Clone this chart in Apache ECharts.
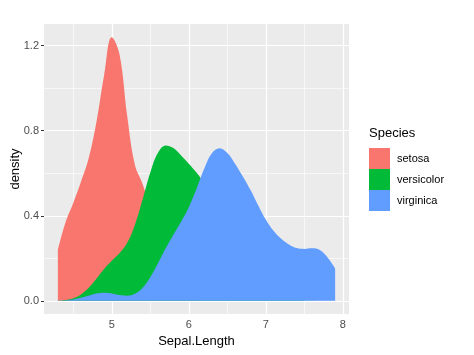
<!DOCTYPE html>
<html>
<head>
<meta charset="utf-8">
<script src="https://cdn.jsdelivr.net/npm/echarts@6/dist/echarts.min.js"></script>
<style>
html,body{margin:0;padding:0;background:#fff;}
#chart{width:474px;height:355px;}
</style>
</head>
<body>
<div id="chart"></div>
<script>
// Sepal.Length grid (density evaluated points)
const xs = [4.3,4.4,4.5,4.6,4.7,4.8,4.9,5.0,5.1,5.2,5.3,5.4,5.5,5.6,5.7,5.8,5.9,6.0,6.1,6.2,6.3,6.4,6.5,6.6,6.7,6.8,6.9,7.0,7.1,7.2,7.3,7.4,7.5,7.6,7.7,7.8,7.9];
const setosa = [0.24,0.37,0.46,0.56,0.67,0.84,1.06,1.24,1.16,0.87,0.64,0.55,0.43,0.29,0.23,0.17,0.08,0.024,0.004,0,0,0,0,0,0,0,0,0,0,0,0,0,0,0,0,0,0];
const versicolor = [0.001,0.004,0.012,0.030,0.061,0.104,0.150,0.189,0.224,0.273,0.357,0.476,0.603,0.696,0.731,0.719,0.684,0.645,0.603,0.553,0.498,0.446,0.404,0.369,0.331,0.280,0.219,0.154,0.097,0.053,0.025,0.010,0.003,0.001,0,0,0];
const virginica = [0.001,0.002,0.006,0.014,0.024,0.034,0.038,0.035,0.027,0.024,0.033,0.061,0.111,0.177,0.247,0.311,0.372,0.440,0.527,0.621,0.694,0.718,0.695,0.645,0.586,0.522,0.450,0.382,0.329,0.292,0.265,0.248,0.244,0.247,0.239,0.205,0.152];
const species = ['setosa','versicolor','virginica'];
const colors = ['#F8766D','#00BA38','#619CFF'];
const xTicks = [5,6,7,8];
const xMinor = [4.5,5.5,6.5,7.5];
const yTicks = [0,0.4,0.8,1.2];
const yMinor = [0.2,0.6,1.0];

const FONT = 'Liberation Sans, Arial, Helvetica, sans-serif';
const seriesVals = [setosa, versicolor, virginica];

const gridLines = [];
xTicks.forEach(v => gridLines.push({xAxis: v, lineStyle: {width: 1.2}}));
xMinor.forEach(v => gridLines.push({xAxis: v, lineStyle: {width: 0.6}}));
yTicks.forEach(v => gridLines.push({yAxis: v, lineStyle: {width: 1.2}}));
yMinor.forEach(v => gridLines.push({yAxis: v, lineStyle: {width: 0.6}}));

const series = [{
  type: 'line', name: '_grid', data: [], silent: true,
  markLine: {
    z: 1, silent: true, animation: false, symbol: ['none','none'],
    label: {show: false},
    lineStyle: {color: '#FFFFFF', type: 'solid'},
    emphasis: {disabled: true},
    data: gridLines
  }
}];
species.forEach((s, k) => {
  series.push({
    type: 'line', name: s,
    data: xs.map((x, i) => [x, seriesVals[k][i]]),
    smooth: 0.4, showSymbol: false, symbol: 'none',
    color: colors[k],
    itemStyle: {color: colors[k]},
    lineStyle: {width: 0, color: colors[k]},
    areaStyle: {color: colors[k], opacity: 1},
    silent: true, z: 2
  });
});

const chart = echarts.init(document.getElementById('chart'), null, {renderer: 'canvas'});
chart.setOption({
  animation: false,
  backgroundColor: '#FFFFFF',
  textStyle: {fontFamily: FONT},
  grid: {left: 44, right: 125, top: 24, bottom: 41, show: true, backgroundColor: '#EBEBEB', borderWidth: 0,
    containLabel: false, outerBoundsMode: 'none'},
  xAxis: {
    type: 'value', min: 4.12, max: 8.08,
    axisLine: {show: false},
    axisTick: {show: true, length: 3, customValues: xTicks, lineStyle: {color: '#333333', width: 1}},
    axisLabel: {customValues: xTicks, color: '#4D4D4D', fontSize: 11, margin: 5, fontFamily: FONT},
    splitLine: {show: false},
    name: 'Sepal.Length', nameLocation: 'middle', nameGap: 19,
    nameTextStyle: {color: '#000000', fontSize: 13, fontFamily: FONT}
  },
  yAxis: {
    type: 'value', min: -0.062, max: 1.302,
    axisLine: {show: false},
    axisTick: {show: true, length: 3, customValues: yTicks, lineStyle: {color: '#333333', width: 1}},
    axisLabel: {customValues: yTicks, color: '#4D4D4D', fontSize: 11, margin: 5, fontFamily: FONT,
      formatter: v => Number(v).toFixed(1)},
    splitLine: {show: false},
    name: 'density', nameLocation: 'middle', nameGap: 22, nameRotate: 90, nameMoveOverlap: false,
    nameTextStyle: {color: '#000000', fontSize: 13, fontFamily: FONT}
  },
  legend: {
    orient: 'vertical', left: 369, top: 148, padding: 0,
    itemWidth: 21, itemHeight: 21, itemGap: 0, icon: 'rect',
    data: species,
    itemStyle: {borderWidth: 0},
    textStyle: {fontSize: 11, color: '#000000', fontFamily: FONT, padding: [0,0,0,2]}
  },
  graphic: [{
    type: 'text', left: 369, top: 127,
    style: {text: 'Species', fontSize: 13, fontFamily: FONT, fill: '#000000'}
  }],
  series: series
});
</script>
</body>
</html>
